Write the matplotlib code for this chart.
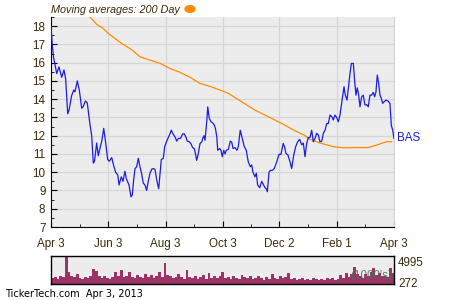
import numpy as np
import matplotlib
matplotlib.use('Agg')
import matplotlib.pyplot as plt
from matplotlib.ticker import MultipleLocator

# days since Apr 3 2012, closing price
price_day = [0, 1.4, 2.7, 6.1, 8.5, 11.4, 13.8, 15.6, 17.8, 19.2, 22.0, 24.2, 25.5, 28.0, 30.1,
             32.7, 34.4, 36.5, 38.6, 41.5, 43.3, 45.0, 46.3, 48.6, 50.3, 52.5, 54.0, 56.1, 58.2,
             60.3, 62.0, 64.6, 67.0, 68.8, 71.0, 72.4, 74.8, 76.6, 78.7, 80.1, 83.0, 85.1, 86.5,
             88.0, 89.4, 91.2, 92.9, 94.7, 96.5, 98.2, 100.0, 101.8, 103.5, 105.3, 107.2, 108.9,
             110.7, 112.5, 114.6, 116.0, 117.4, 119.5, 121.0, 123.1, 125.2, 126.6, 128.0, 130.1,
             131.9, 133.8, 135.5, 137.8, 140.1, 141.8, 143.7, 145.0, 147.2, 149.0, 150.8, 152.5,
             154.0, 155.0, 156.7, 158.6, 160.4, 161.4, 162.8, 163.9, 165.7, 166.8, 168.4, 170.3,
             172.1, 173.8, 175.0, 176.5, 177.4, 179.5, 180.9, 182.3, 183.8, 185.2, 186.5, 188.7,
             190.8, 192.3, 193.7, 195.8, 197.9, 199.3, 201.4, 203.6, 205.7, 207.8, 209.9, 212.1,
             213.6, 214.9, 217.1, 218.5, 219.9, 222.1, 224.2, 226.3, 227.7, 229.1, 230.2, 232.0,
             233.4, 235.5, 237.6, 240.2, 242.6, 244.7, 247.1, 248.5, 250.0, 252.1, 254.3, 256.1,
             258.3, 260.4, 262.5, 264.6, 266.8, 268.5, 270.3, 272.1, 273.8, 275.6, 277.4, 279.1,
             280.9, 282.7, 284.4, 286.2, 288.1, 289.8, 291.6, 293.4, 295.1, 296.9, 298.7, 300.4,
             302.2, 304.0, 305.7, 307.5, 309.3, 311.8, 313.2, 315.0, 316.4, 318.2, 319.6, 321.7,
             323.2, 324.5, 325.9, 327.4, 328.8, 330.6, 332.3, 334.1, 335.9, 337.6, 339.4, 341.2,
             342.9, 344.4, 345.8, 347.2, 348.7, 350.1, 351.5, 353.0, 354.4, 356.5, 358.6, 360.7,
             362.1, 363.6, 365]
price = [17.96, 16.96, 16.3, 15.4, 15.77, 15.2, 15.6, 15.1, 13.2, 13.4, 14.2, 14.5, 14.4, 15.0, 14.5,
         13.5, 13.6, 13.9, 13.8, 12.6, 12.0, 10.5, 10.6, 11.6, 10.9, 11.4, 11.7, 12.4, 11.6,
         10.7, 10.6, 10.8, 10.3, 10.0, 9.85, 9.3, 9.75, 9.5, 10.05, 9.65, 9.3, 8.65, 8.75,
         9.6, 10.2, 10.3, 10.76, 10.3, 9.9, 9.4, 9.3, 9.0, 9.5, 9.94, 10.17, 10.2,
         10.15, 9.57, 9.1, 9.9, 10.7, 10.76, 11.4, 11.7, 11.94, 12.1, 12.3, 12.07,
         11.94, 11.7, 11.85, 11.85, 12.1, 12.1, 11.9, 11.7, 11.67, 11.55, 11.34, 11.3,
         10.94, 10.65, 11.0, 11.58, 11.65, 11.85, 12.0, 11.75, 12.76, 13.58, 12.95, 12.76,
         12.7, 12.58, 12.4, 11.9, 11.2, 11.3, 11.2, 10.85, 11.2, 11.0, 11.2, 11.25,
         11.7, 11.65, 11.3, 11.35, 11.2, 11.4, 12.3, 11.85, 11.4, 11.2, 10.57, 10.3,
         10.4, 10.0, 9.75, 9.95, 9.3, 9.15, 9.5, 9.3, 9.15, 9.1, 8.93, 10.0,
         10.1, 10.1, 10.2, 10.57, 10.98, 10.98, 11.58, 11.4, 11.03, 10.95, 10.57, 10.2,
         10.94, 11.4, 11.67, 11.8, 11.5, 11.6, 10.85, 11.58, 11.9, 11.9, 12.3, 11.67,
         11.85, 12.13, 12.05, 11.67, 11.7, 12.13, 12.3, 12.67, 12.67, 13.13, 13.05, 12.86,
         13.13, 13.0, 12.76, 13.13, 13.77, 14.68, 14.22, 13.95, 14.59, 15.41, 15.96, 15.96,
         14.95, 14.22, 14.62, 14.22, 13.58, 14.13, 14.22, 13.68, 13.7, 13.58, 14.22, 14.22,
         14.37, 14.13, 14.4, 15.32, 14.86, 14.22, 14.04, 13.77, 13.86, 13.95, 13.9, 13.77,
         12.58, 12.3, 11.85]

ma_day = [38.0, 41.5, 48.6, 55.7, 61.0, 75.2, 86.2, 94.7, 105.3, 116.0, 126.6, 137.3, 147.9,
          158.6, 169.2, 179.8, 188.7, 202.9, 217.1, 231.2, 245.5, 259.6, 269.5, 275.6, 286.2,
          300.4, 311.0, 325.3, 337.6, 346.6, 357.2, 362.5]
ma200 = [18.7, 18.5, 18.1, 17.87, 17.6, 17.05, 16.7, 16.32, 16.14, 15.96, 15.68, 15.47, 15.2,
         14.86, 14.7, 14.5, 14.32, 13.86, 13.4, 13.04, 12.67, 12.27, 12.03, 11.8, 11.6,
         11.4, 11.34, 11.35, 11.35, 11.49, 11.67, 11.67]

# volume in 1000's
volume = [1300, 1500, 1200, 1700, 1600, 6200, 2800, 1900, 1500, 2300, 1400, 1200, 1600, 1300, 1800,
          3400, 3000, 1700, 1400, 1900, 1300, 1100, 1500, 2600, 1700, 3100, 1500, 1800, 2700, 1600,
          1300, 2000, 1500, 1400, 2300, 1600, 2100, 1400, 1700, 2800, 1500, 4700, 2100, 1800, 1300,
          1600, 2300, 1500, 1200, 3100, 1600, 1300, 1700, 1100, 1500, 2000, 1200, 2400, 1400, 1700,
          1300, 1900, 2600, 1300, 1500, 1100, 1800, 1400, 1200, 2100, 1500, 1300, 1700, 1100, 1400,
          1900, 1300, 1000, 1500, 1200, 2200, 1400, 1100, 1700, 1300, 1600, 2500, 1200, 1400, 900,
          1100, 1300, 900, 1200, 1000, 1300, 1100, 900, 1200, 1000, 1300, 1100, 1400, 1000, 1200,
          2100, 1300, 2500, 1600, 2200, 3900, 2300, 1700, 1400, 2200, 1800, 2600, 3600, 2000, 2400,
          1700, 1900, 1500, 3600, 2400]
vol_ticks = [272, 4995]

tick_days = [0, 61, 122, 183, 243, 304, 365]
tick_labels = ['Apr 3', 'Jun 3', 'Aug 3', 'Oct 3', 'Dec 2', 'Feb 1', 'Apr 3']

txt = '#3b2a0a'
plt.rcParams['font.family'] = ['Liberation Sans', 'DejaVu Sans']
fs = 8.4

fig = plt.figure(figsize=(4.5, 3.0), dpi=100)
ax = fig.add_axes([51/450, 1-227/300, 343/450, 210/300])
ax.set_facecolor('#ececec')
ax.plot(price_day, price, color='#1c1ce6', lw=0.9, zorder=3)
ax.plot(ma_day, ma200, color='#ff8c00', lw=0.9, zorder=2)
ax.set_xlim(0, 365)
ax.set_ylim(7, 18.5)
ax.set_yticks(range(7, 19))
ax.yaxis.set_minor_locator(MultipleLocator(0.5))
ax.set_xticks(tick_days)
ax.set_xticklabels(tick_labels)
ax.set_xticks([(a + b) / 2 for a, b in zip(tick_days[:-1], tick_days[1:])], minor=True)
ax.grid(True, which='major', color='#d6d6d6', lw=0.9)
ax.set_axisbelow(True)
ax.spines['top'].set_visible(False)
ax.spines['right'].set_color('#d6d6d6')
ax.tick_params(which='both', direction='in', color='black', labelcolor=txt, labelsize=fs)
ax.tick_params(which='major', length=4, pad=8)
ax.tick_params(which='minor', length=2.5)
ax.tick_params(axis='y', pad=4)
ax.text(1.008, 11.85, 'BAS', transform=ax.get_yaxis_transform(), color='#1c1ce6',
        fontsize=fs, va='center', ha='left')

fig.text(51/450, 1-10/300, 'Moving averages: 200 Day', fontsize=7.8, style='italic',
         color=txt, va='center', ha='left')
fig.add_artist(plt.Circle((190/450, 1-9/300), 5/450, transform=fig.transFigure,
                          color='#ff8c00'))

axv = fig.add_axes([51/450, 1-284/300, 343/450, 28/300])
axv.set_facecolor('#ececec')
vx = np.linspace(0, 365, len(volume))
axv.bar(vx, volume, width=365/len(volume)*1.05, color='#9b3366', lw=0)
axv.set_xlim(-1.5, 366)
axv.set_ylim(0, 6300)
axv.set_xticks([])
axv.yaxis.tick_right()
axv.set_yticks(vol_ticks)
axv.set_yticklabels([str(v) for v in vol_ticks])
axv.tick_params(axis='y', length=0, labelcolor=txt, labelsize=fs, pad=3)
for s in axv.spines.values():
    s.set_linewidth(1.0)
axv.text(0.995, 0.28, "(1000's)", transform=axv.transAxes, color='#4d6e5a',
         fontsize=fs, ha='right', va='center', alpha=0.85)

fig.text(5/450, 1-294/300, 'TickerTech.com  Apr 3, 2013', fontsize=7, color='black',
         family=['DejaVu Sans'], va='center', ha='left')

fig.savefig('out.png', dpi=100)
